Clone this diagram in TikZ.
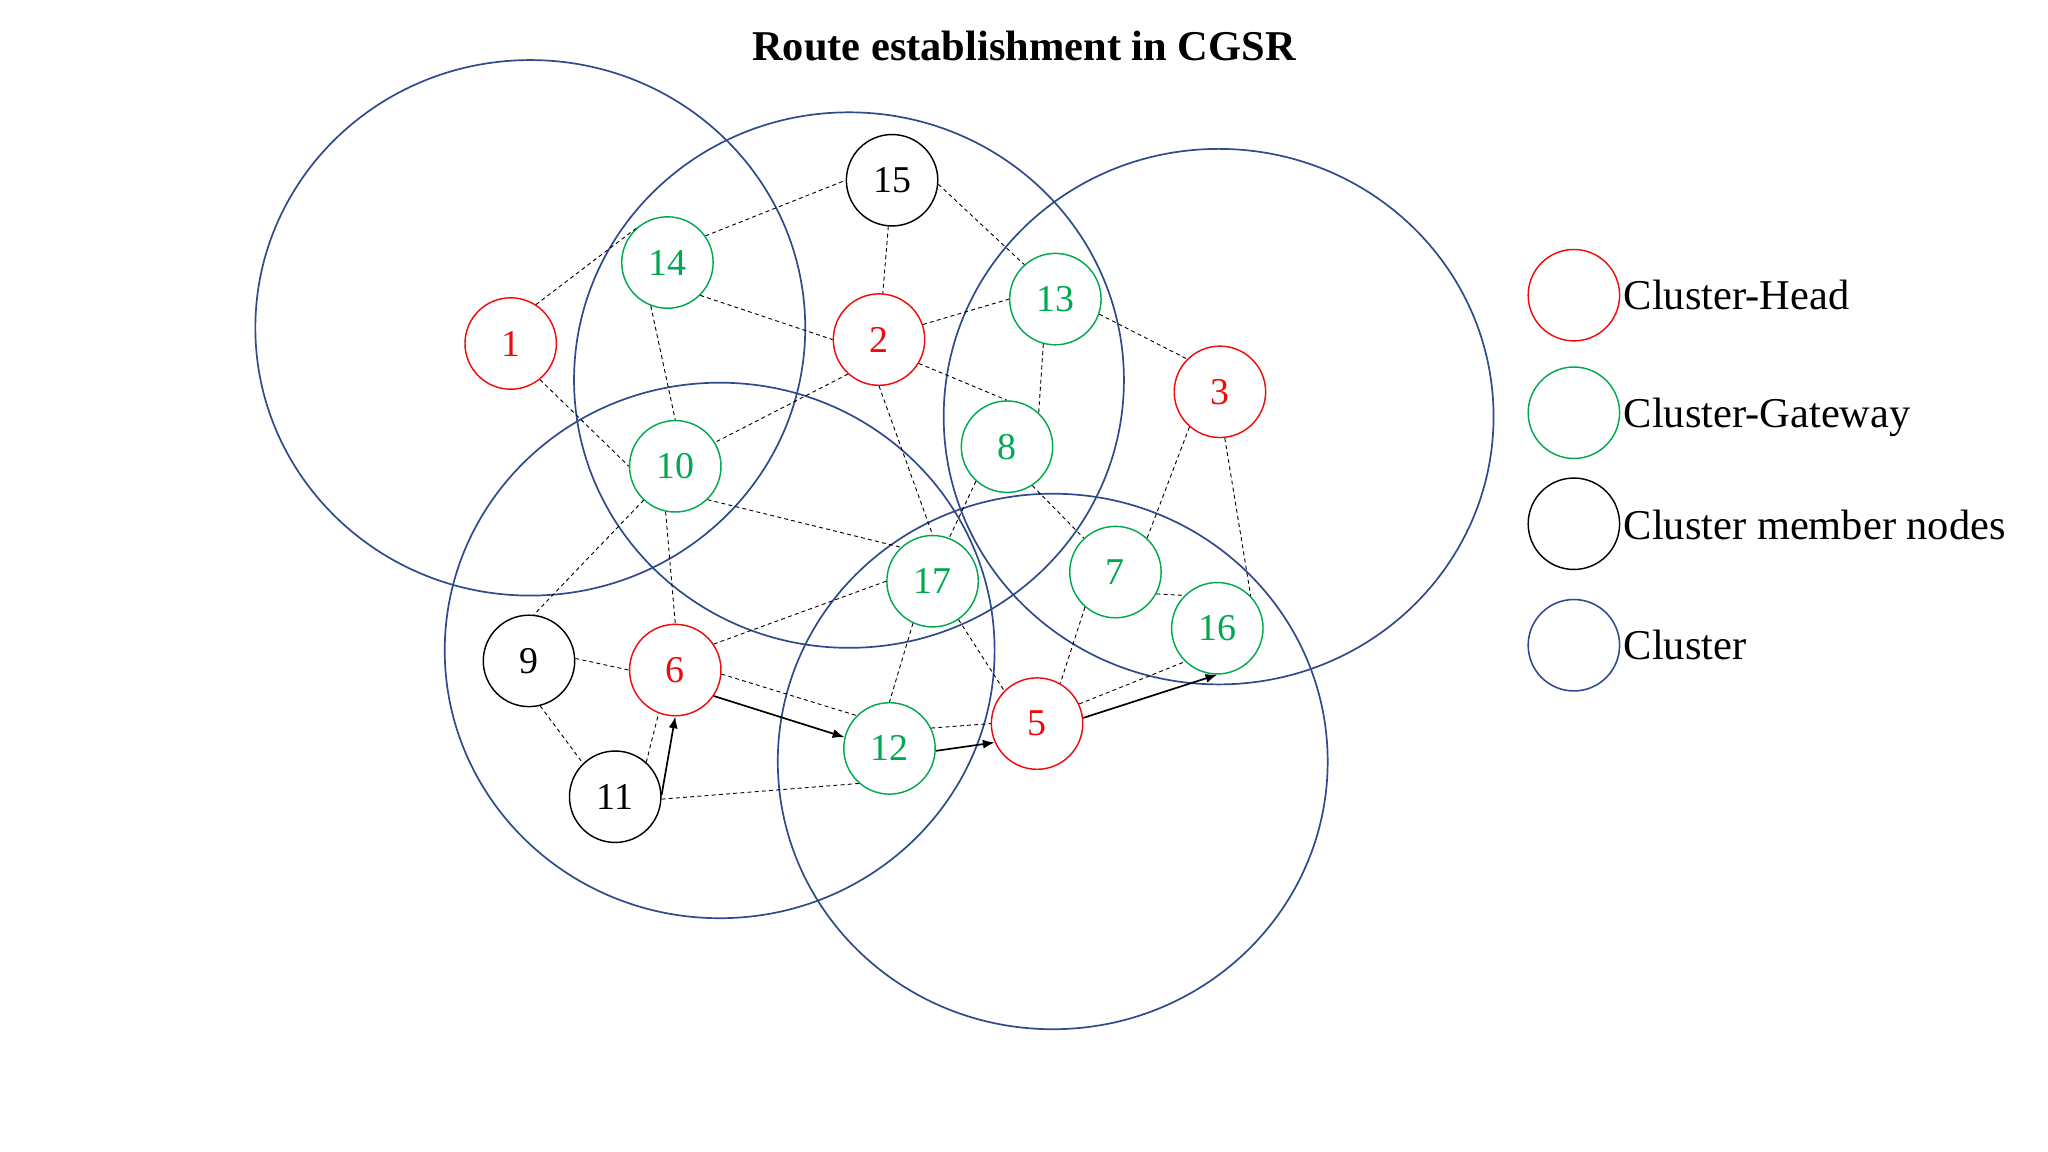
\documentclass[tikz,border=0pt]{standalone}
\usepackage{fontspec}
\setmainfont{Liberation Serif}
\usetikzlibrary{arrows.meta}
\definecolor{cred}{RGB}{240,10,10}
\definecolor{cgreen}{RGB}{0,168,80}
\definecolor{cblue}{RGB}{47,75,140}
\tikzset{
  nd/.style={circle, draw, minimum size=70pt, inner sep=0pt, line width=1.1pt, font=\fontsize{29}{32}\selectfont},
  ch/.style={nd, draw=cred, text=cred},
  gw/.style={nd, draw=cgreen, text=cgreen},
  mb/.style={nd, draw=black, text=black},
  lc/.style={nd, draw=cblue, line width=1.2pt},
  link/.style={dash pattern=on 3pt off 2.5pt, line width=0.7pt},
  route/.style={-{Latex[length=9pt,width=7pt]}, line width=1.3pt},
  clus/.style={draw=cblue, line width=1.3pt},
  legtext/.style={anchor=base west, font=\fontsize{32.5}{38}\selectfont, inner sep=0pt}
}
\begin{document}
\begin{tikzpicture}[x=1pt,y=-1pt]
\useasboundingbox[fill=white] (0,0) rectangle (1568,882);
% title
\node[anchor=base, font=\fontsize{32.5}{38}\selectfont\bfseries, inner sep=0pt] (title) at (784,46) {Route establishment in CGSR};
% clusters
\draw[clus] (406,251) ellipse [x radius=210.5pt, y radius=205pt];
\draw[clus] (650,291) ellipse [x radius=210.5pt, y radius=205pt];
\draw[clus] (933,319) ellipse [x radius=210.5pt, y radius=205pt];
\draw[clus] (551,498) ellipse [x radius=210.5pt, y radius=205pt];
\draw[clus] (806,583) ellipse [x radius=210.5pt, y radius=205pt];
% nodes
\node[mb] (n15) at (683,138) {15};
\node[gw] (n14) at (511,201) {14};
\node[ch] (n1)  at (391,263) {1};
\node[ch] (n2)  at (673,260) {2};
\node[gw] (n13) at (808,229) {13};
\node[ch] (n3)  at (934,300) {3};
\node[gw] (n8)  at (771,342) {8};
\node[gw] (n10) at (517,357) {10};
\node[gw] (n17) at (714,445) {17};
\node[gw] (n7)  at (854,438) {7};
\node[gw] (n16) at (932,481) {16};
\node[mb] (n9)  at (405,506) {9};
\node[ch] (n6)  at (517,513) {6};
\node[gw] (n12) at (681,573) {12};
\node[ch] (n5)  at (794,554) {5};
\node[mb] (n11) at (471,610) {11};
% dashed links
\draw[link] (n1.57) -- (n14.133);
\draw[link] (n1.-51) -- (n10.180);
\draw[link] (n14.35) -- (n15.180);
\draw[link] (n14.-45) -- (n2.180);
\draw[link] (n14.249) -- (n10.90);
\draw[link] (n15) -- (n2);
\draw[link] (n15.-5) -- (n13.132);
\draw[link] (n2.19) -- (n13.180);
\draw[link] (n2.228) -- (n10.31);
\draw[link] (n2.-31) -- (n8.90);
\draw[link] (n2.270) -- (n17.90);
\draw[link] (n13.255) -- (n8.47);
\draw[link] (n13.-19) -- (n3.135);
\draw[link] (n3.229) -- (n7.47);
\draw[link] (n3.-84) -- (n16.44);
\draw[link] (n8.228) -- (n17.69);
\draw[link] (n8.-57) -- (n7.133);
\draw[link] (n10.-46) -- (n17.133);
\draw[link] (n10.227) -- (n9.84);
\draw[link] (n10.258) -- (n6.90);
\draw[link] (n7.-28) -- (n16.135);
\draw[link] (n7.229) -- (n5.60);
\draw[link] (n17.180) -- (n6.34);
\draw[link] (n17.245) -- (n12.90);
\draw[link] (n17.-56) -- (n5.135);
\draw[link] (n9.3) -- (n6.180);
\draw[link] (n9.-76) -- (n11.134);
\draw[link] (n11.48) -- (n6.249);
\draw[link] (n6.-5) -- (n12.135);
\draw[link] (n12.26) -- (n5.180);
\draw[link] (n5.25) -- (n16.226);
\draw[link] (n11.-3) -- (n12.229);
% route arrows
\draw[route] (n11.2) -- (n6.270);
\draw[route] (n6.-34) -- (n12.166);
\draw[route] (n12.-3) -- (n5.204);
\draw[route] (n5.7) -- (n16.270);
% legend
\node[nd, draw=cred] (lh) at (1205,226) {};
\node[nd, draw=cgreen] (lg) at (1205,316) {};
\node[nd, draw=black] (lm) at (1205,401) {};
\node[lc] (lcl) at (1205,494) {};
\node[legtext] (lht) at (1243,237) {Cluster-Head};
\node[legtext] (lgt) at (1243,327) {Cluster-Gateway};
\node[legtext] (lmt) at (1243,413) {Cluster member nodes};
\node[legtext] (lct) at (1243,505) {Cluster};
\end{tikzpicture}
\end{document}
